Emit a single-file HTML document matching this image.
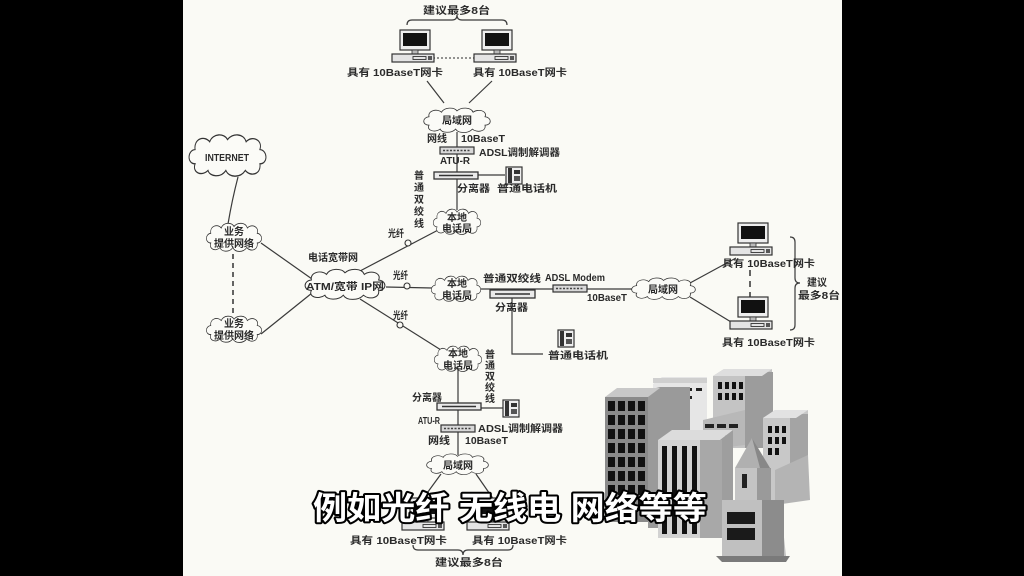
<!DOCTYPE html>
<html><head><meta charset="utf-8"><style>
html,body{margin:0;padding:0;background:#000;}
svg{display:block;}
.t{font-family:"Liberation Sans","Noto Sans CJK SC",sans-serif;font-size:10px;fill:#2a2a2a;font-weight:bold;}
.m{font-family:"Liberation Mono","Noto Sans CJK SC",monospace;font-size:10px;fill:#2a2a2a;}
.c{text-anchor:middle;}
.ln{stroke:#3a3a3a;stroke-width:1.2;fill:none;}
.cl{fill:#fbfbf7;stroke:#333;stroke-width:1.2;}
</style></head><body>
<svg width="1024" height="576" viewBox="0 0 1024 576" xmlns="http://www.w3.org/2000/svg">
<defs>
<path id="cloud" d="M10,28 C0,28 0,16 10,15 C8,5 22,2 28,8 C32,0 46,0 50,6 C56,0 70,0 73,8 C80,2 94,6 90,15 C100,16 100,28 90,28 C92,38 78,40 72,34 C66,41 52,41 48,34 C42,41 28,40 26,34 C18,40 6,36 10,28 Z"/>
<g id="pc">
<rect x="0" y="0" width="30" height="20" fill="#eee" stroke="#333" stroke-width="1.2"/>
<rect x="3" y="3" width="24" height="13" fill="#111"/>
<rect x="12" y="20" width="6" height="4" fill="#bbb" stroke="#333" stroke-width="0.8"/>
<rect x="-8" y="24" width="42" height="8" fill="#e4e4e4" stroke="#333" stroke-width="1.2"/>
<rect x="13" y="26.5" width="13" height="3" fill="none" stroke="#333" stroke-width="0.9"/>
<rect x="28" y="26" width="4" height="4" fill="#555"/>
</g>
<g id="modem">
<rect x="0" y="0" width="34" height="7" fill="#d8d8d8" stroke="#333" stroke-width="1.2"/>
<line x1="3" y1="3.5" x2="31" y2="3.5" stroke="#444" stroke-width="1.5" stroke-dasharray="2 1.5"/>
</g>
<g id="split">
<rect x="0" y="0" width="44" height="7" fill="#eaeaea" stroke="#333" stroke-width="1.3"/>
<line x1="5" y1="3.5" x2="39" y2="3.5" stroke="#333" stroke-width="1.5"/>
</g>
<g id="phone">
<rect x="0" y="0" width="16" height="17" fill="#eee" stroke="#333" stroke-width="1.2"/>
<rect x="2" y="1" width="4" height="15" fill="#333"/>
<rect x="8" y="3" width="6" height="4" fill="#333"/>
<rect x="8" y="9" width="6" height="5" fill="#555"/>
</g>
</defs>

<rect x="0" y="0" width="1024" height="576" fill="#000"/>
<rect x="183" y="0" width="659" height="576" fill="#fafaf5"/>

<!-- connectors -->
<path class="ln" d="M407,25 Q407,20 412,20 L452,20 Q457,20 457,15 Q457,20 462,20 L502,20 Q507,20 507,25"/>
<line x1="433" y1="58" x2="474" y2="58" stroke="#555" stroke-width="1.2" stroke-dasharray="2 2"/>
<line class="ln" x1="427" y1="81" x2="444" y2="103"/>
<line class="ln" x1="492" y1="81" x2="469" y2="103"/>
<line class="ln" x1="457" y1="132" x2="457" y2="210"/>
<line class="ln" x1="477" y1="175" x2="505" y2="175"/>
<path class="ln" d="M238,177 Q232,200 228,224"/>
<line x1="233" y1="254" x2="233" y2="316" stroke="#333" stroke-width="1.5" stroke-dasharray="5 4"/>
<line class="ln" x1="261" y1="243" x2="312" y2="279"/>
<line class="ln" x1="261" y1="334" x2="312" y2="293"/>
<line class="ln" x1="360" y1="271" x2="442" y2="228"/>
<line class="ln" x1="386" y1="287" x2="432" y2="288"/>
<line class="ln" x1="360" y1="299" x2="441" y2="350"/>
<circle cx="408" cy="243" r="3" fill="#fafaf5" stroke="#333" stroke-width="1.1"/>
<circle cx="407" cy="286" r="3" fill="#fafaf5" stroke="#333" stroke-width="1.1"/>
<circle cx="400" cy="325" r="3" fill="#fafaf5" stroke="#333" stroke-width="1.1"/>
<line class="ln" x1="481" y1="289" x2="632" y2="289"/>
<path class="ln" d="M512,297 L512,354 L543,354"/>
<line class="ln" x1="690" y1="283" x2="736" y2="258"/>
<line class="ln" x1="690" y1="297" x2="736" y2="325"/>
<line x1="750" y1="270" x2="750" y2="297" stroke="#333" stroke-width="1.5" stroke-dasharray="6 5"/>
<path class="ln" d="M790,237 Q795,237 795,242 L795,278 Q795,283 800,283 Q795,283 795,288 L795,325 Q795,330 790,330"/>
<line class="ln" x1="458" y1="370" x2="458" y2="455"/>
<line class="ln" x1="480" y1="408" x2="503" y2="408"/>
<line class="ln" x1="441" y1="474" x2="422" y2="500"/>
<line class="ln" x1="476" y1="474" x2="494" y2="500"/>
<path class="ln" d="M413,545 Q413,550 418,550 L458,550 Q463,550 463,555 Q463,550 468,550 L508,550 Q513,550 513,545"/>

<!-- clouds -->
<use href="#cloud" class="cl" transform="translate(422,107) scale(0.70,0.65)" vector-effect="non-scaling-stroke"/>
<use href="#cloud" class="cl" transform="translate(187,133) scale(0.81,1.1)"/>
<use href="#cloud" class="cl" transform="translate(432,208) scale(0.5,0.675)"/>
<use href="#cloud" class="cl" transform="translate(205,222) scale(0.58,0.75)"/>
<use href="#cloud" class="cl" transform="translate(205,315) scale(0.58,0.7)"/>
<use href="#cloud" class="cl" transform="translate(303,268) scale(0.84,0.8)"/>
<use href="#cloud" class="cl" transform="translate(430,275) scale(0.52,0.675)"/>
<use href="#cloud" class="cl" transform="translate(630,277) scale(0.67,0.575)"/>
<use href="#cloud" class="cl" transform="translate(433,345) scale(0.5,0.675)"/>
<use href="#cloud" class="cl" transform="translate(425,453) scale(0.65,0.55)"/>

<!-- devices -->
<use href="#pc" x="400" y="30"/>
<use href="#pc" x="482" y="30"/>
<use href="#pc" x="738" y="223"/>
<use href="#pc" x="738" y="297"/>
<use href="#pc" x="410" y="498"/>
<use href="#pc" x="475" y="498"/>
<use href="#modem" x="440" y="147"/>
<use href="#split" x="434" y="172"/>
<use href="#phone" x="506" y="167"/>
<rect x="490" y="290" width="45" height="8" fill="#eaeaea" stroke="#333" stroke-width="1.3"/>
<line x1="495" y1="294" x2="530" y2="294" stroke="#333" stroke-width="1.5"/>
<use href="#modem" x="553" y="285"/>
<use href="#phone" x="558" y="330"/>
<use href="#split" x="437" y="403"/>
<use href="#modem" x="441" y="425"/>
<use href="#phone" x="503" y="400"/>

<!-- labels -->
<text class="t" x="423" y="14" textLength="67" lengthAdjust="spacingAndGlyphs">建议最多8台</text>
<text class="t" x="347" y="76" textLength="96" lengthAdjust="spacingAndGlyphs">具有 10BaseT网卡</text>
<text class="t" x="473" y="76" textLength="94" lengthAdjust="spacingAndGlyphs">具有 10BaseT网卡</text>
<text class="t c" x="457" y="124">局域网</text>
<text class="t" x="427" y="142" textLength="20" lengthAdjust="spacingAndGlyphs">网线</text>
<text class="t" x="461" y="142" textLength="44" lengthAdjust="spacingAndGlyphs">10BaseT</text>
<text class="t" x="479" y="156" textLength="81" lengthAdjust="spacingAndGlyphs">ADSL调制解调器</text>
<text class="t" x="440" y="164" textLength="30" lengthAdjust="spacingAndGlyphs">ATU-R</text>
<text class="t" x="457" y="192" textLength="33" lengthAdjust="spacingAndGlyphs">分离器</text>
<text class="t" x="497" y="192" textLength="60" lengthAdjust="spacingAndGlyphs">普通电话机</text>
<g class="t c"><text x="419" y="179">普</text><text x="419" y="191">通</text><text x="419" y="203">双</text><text x="419" y="215">绞</text><text x="419" y="227">线</text></g>
<text class="t c" x="457" y="221">本地</text>
<text class="t c" x="457" y="232">电话局</text>
<text class="t" x="388" y="237" textLength="16" lengthAdjust="spacingAndGlyphs">光纤</text>
<text class="t c" x="227" y="161" textLength="44" lengthAdjust="spacingAndGlyphs">INTERNET</text>
<text class="t c" x="234" y="235">业务</text>
<text class="t c" x="234" y="247">提供网络</text>
<text class="t c" x="234" y="327">业务</text>
<text class="t c" x="234" y="339">提供网络</text>
<text class="t" x="308" y="261" textLength="50" lengthAdjust="spacingAndGlyphs">电话宽带网</text>
<text class="t" x="306" y="290" textLength="78" lengthAdjust="spacingAndGlyphs">ATM/宽带 IP网</text>
<text class="t" x="393" y="279" textLength="15" lengthAdjust="spacingAndGlyphs">光纤</text>
<text class="t c" x="457" y="287">本地</text>
<text class="t c" x="457" y="299">电话局</text>
<text class="t" x="483" y="282" textLength="58" lengthAdjust="spacingAndGlyphs">普通双绞线</text>
<text class="t" x="545" y="281" textLength="60" lengthAdjust="spacingAndGlyphs">ADSL Modem</text>
<text class="t" x="495" y="311" textLength="33" lengthAdjust="spacingAndGlyphs">分离器</text>
<text class="t" x="587" y="301" textLength="40" lengthAdjust="spacingAndGlyphs">10BaseT</text>
<text class="t" x="548" y="359" textLength="60" lengthAdjust="spacingAndGlyphs">普通电话机</text>
<text class="t c" x="663" y="293">局域网</text>
<text class="t" x="722" y="267" textLength="93" lengthAdjust="spacingAndGlyphs">具有 10BaseT网卡</text>
<text class="t" x="722" y="346" textLength="93" lengthAdjust="spacingAndGlyphs">具有 10BaseT网卡</text>
<text class="t" x="807" y="286" textLength="20" lengthAdjust="spacingAndGlyphs">建议</text>
<text class="t" x="798" y="299" textLength="42" lengthAdjust="spacingAndGlyphs">最多8台</text>
<text class="t" x="393" y="319" textLength="15" lengthAdjust="spacingAndGlyphs">光纤</text>
<text class="t c" x="458" y="357">本地</text>
<text class="t c" x="458" y="369">电话局</text>
<g class="t c"><text x="490" y="358">普</text><text x="490" y="369">通</text><text x="490" y="380">双</text><text x="490" y="391">绞</text><text x="490" y="402">线</text></g>
<text class="t" x="412" y="401" textLength="30" lengthAdjust="spacingAndGlyphs">分离器</text>
<text class="t" x="418" y="424" textLength="22" lengthAdjust="spacingAndGlyphs">ATU-R</text>
<text class="t" x="478" y="432" textLength="85" lengthAdjust="spacingAndGlyphs">ADSL调制解调器</text>
<text class="t" x="428" y="444" textLength="22" lengthAdjust="spacingAndGlyphs">网线</text>
<text class="t" x="465" y="444" textLength="43" lengthAdjust="spacingAndGlyphs">10BaseT</text>
<text class="t c" x="458" y="469">局域网</text>

<!-- buildings -->
<g stroke="none">
<!-- back white building -->
<polygon points="653,384 662,377 707,377 707,440 653,440" fill="#e6e6e6"/>
<rect x="653" y="378" width="54" height="5" fill="#cfcfcf"/>
<g fill="#222"><rect x="660" y="388" width="8" height="3"/><rect x="672" y="388" width="8" height="3"/><rect x="684" y="388" width="8" height="3"/><rect x="660" y="396" width="8" height="3"/><rect x="672" y="396" width="8" height="3"/><rect x="684" y="396" width="8" height="3"/><rect x="696" y="388" width="6" height="3"/></g>
<!-- tall right-back building -->
<polygon points="713,376 724,369 772,369 772,448 713,448" fill="#c4c4c4"/>
<rect x="745" y="372" width="28" height="76" fill="#9c9c9c"/>
<polygon points="713,376 724,369 772,369 762,376" fill="#dedede"/>
<g fill="#111"><rect x="718" y="382" width="4" height="7"/><rect x="725" y="382" width="4" height="7"/><rect x="732" y="382" width="4" height="7"/><rect x="739" y="382" width="4" height="7"/><rect x="718" y="393" width="4" height="7"/><rect x="725" y="393" width="4" height="7"/><rect x="732" y="393" width="4" height="7"/><rect x="739" y="393" width="4" height="7"/></g>
<polygon points="703,420 745,410 745,445 703,450" fill="#b8b8b8"/>
<g fill="#222"><rect x="705" y="424" width="9" height="4"/><rect x="717" y="424" width="9" height="4"/><rect x="729" y="424" width="9" height="4"/><rect x="705" y="432" width="9" height="4"/><rect x="717" y="432" width="9" height="4"/></g>
<!-- right building -->
<polygon points="763,418 775,410 808,410 808,500 763,500" fill="#c8c8c8"/>
<rect x="790" y="414" width="18" height="86" fill="#a4a4a4"/>
<polygon points="763,418 775,410 808,410 796,418" fill="#e2e2e2"/>
<polygon points="775,470 808,455 810,500 775,505" fill="#b4b4b4"/>
<g fill="#111"><rect x="768" y="426" width="4" height="7"/><rect x="775" y="426" width="4" height="7"/><rect x="782" y="426" width="4" height="7"/><rect x="768" y="437" width="4" height="7"/><rect x="775" y="437" width="4" height="7"/><rect x="782" y="437" width="4" height="7"/><rect x="768" y="448" width="4" height="7"/><rect x="775" y="448" width="4" height="7"/></g>
<!-- left tall building -->
<polygon points="648,390 660,387 690,387 690,528 648,528" fill="#9a9a9a"/>
<polygon points="605,397 617,388 660,388 648,397" fill="#c8c8c8"/>
<rect x="605" y="397" width="43" height="125" fill="#8a8a8a"/>
<g fill="#111">
<rect x="608" y="401" width="7" height="10"/><rect x="618" y="401" width="7" height="10"/><rect x="628" y="401" width="7" height="10"/><rect x="638" y="401" width="7" height="10"/>
<rect x="608" y="415" width="7" height="10"/><rect x="618" y="415" width="7" height="10"/><rect x="628" y="415" width="7" height="10"/><rect x="638" y="415" width="7" height="10"/>
<rect x="608" y="429" width="7" height="10"/><rect x="618" y="429" width="7" height="10"/><rect x="628" y="429" width="7" height="10"/><rect x="638" y="429" width="7" height="10"/>
<rect x="608" y="443" width="7" height="10"/><rect x="618" y="443" width="7" height="10"/><rect x="628" y="443" width="7" height="10"/><rect x="638" y="443" width="7" height="10"/>
<rect x="608" y="457" width="7" height="10"/><rect x="618" y="457" width="7" height="10"/><rect x="628" y="457" width="7" height="10"/><rect x="638" y="457" width="7" height="10"/>
<rect x="608" y="471" width="7" height="10"/><rect x="618" y="471" width="7" height="10"/><rect x="628" y="471" width="7" height="10"/><rect x="638" y="471" width="7" height="10"/>
<rect x="608" y="485" width="7" height="10"/><rect x="618" y="485" width="7" height="10"/><rect x="628" y="485" width="7" height="10"/><rect x="638" y="485" width="7" height="10"/>
<rect x="608" y="499" width="7" height="10"/><rect x="618" y="499" width="7" height="10"/><rect x="628" y="499" width="7" height="10"/><rect x="638" y="499" width="7" height="10"/>
</g>
<!-- front striped building -->
<polygon points="658,440 672,430 733,430 720,440" fill="#dcdcdc"/>
<polygon points="720,440 733,430 733,532 720,538" fill="#9e9e9e"/>
<rect x="700" y="440" width="22" height="98" fill="#a8a8a8"/>
<rect x="658" y="440" width="42" height="98" fill="#d2d2d2"/>
<g fill="#111"><rect x="662" y="446" width="5" height="88"/><rect x="672" y="446" width="5" height="88"/><rect x="682" y="446" width="5" height="88"/><rect x="692" y="446" width="5" height="88"/></g>
<!-- church -->
<polygon points="735,468 752,438 770,468" fill="#b0b0b0"/>
<polygon points="752,438 770,468 760,468" fill="#888"/>
<rect x="735" y="468" width="36" height="32" fill="#c4c4c4"/>
<rect x="757" y="468" width="14" height="32" fill="#9a9a9a"/>
<rect x="742" y="474" width="5" height="14" fill="#222"/>
<polygon points="722,500 780,500 786,556 722,556" fill="#c0c0c0"/>
<rect x="762" y="500" width="22" height="56" fill="#8c8c8c"/>
<rect x="727" y="512" width="28" height="12" fill="#1a1a1a"/>
<rect x="727" y="528" width="28" height="12" fill="#1a1a1a"/>
<polygon points="716,556 790,556 786,562 722,562" fill="#7a7a7a"/>
</g>

<text class="t" x="350" y="544" textLength="97" lengthAdjust="spacingAndGlyphs">具有 10BaseT网卡</text>
<text class="t" x="472" y="544" textLength="95" lengthAdjust="spacingAndGlyphs">具有 10BaseT网卡</text>
<text class="t" x="435" y="566" textLength="68" lengthAdjust="spacingAndGlyphs">建议最多8台</text>

<!-- subtitle -->
<text x="510" y="519" text-anchor="middle" textLength="394" lengthAdjust="spacingAndGlyphs" style="font-family:'Liberation Sans','Noto Sans CJK SC',sans-serif;font-size:32px;font-weight:bold;fill:#fff;stroke:#000;stroke-width:4;paint-order:stroke;stroke-linejoin:round;">例如光纤 无线电 网络等等</text>
</svg>
</body></html>
